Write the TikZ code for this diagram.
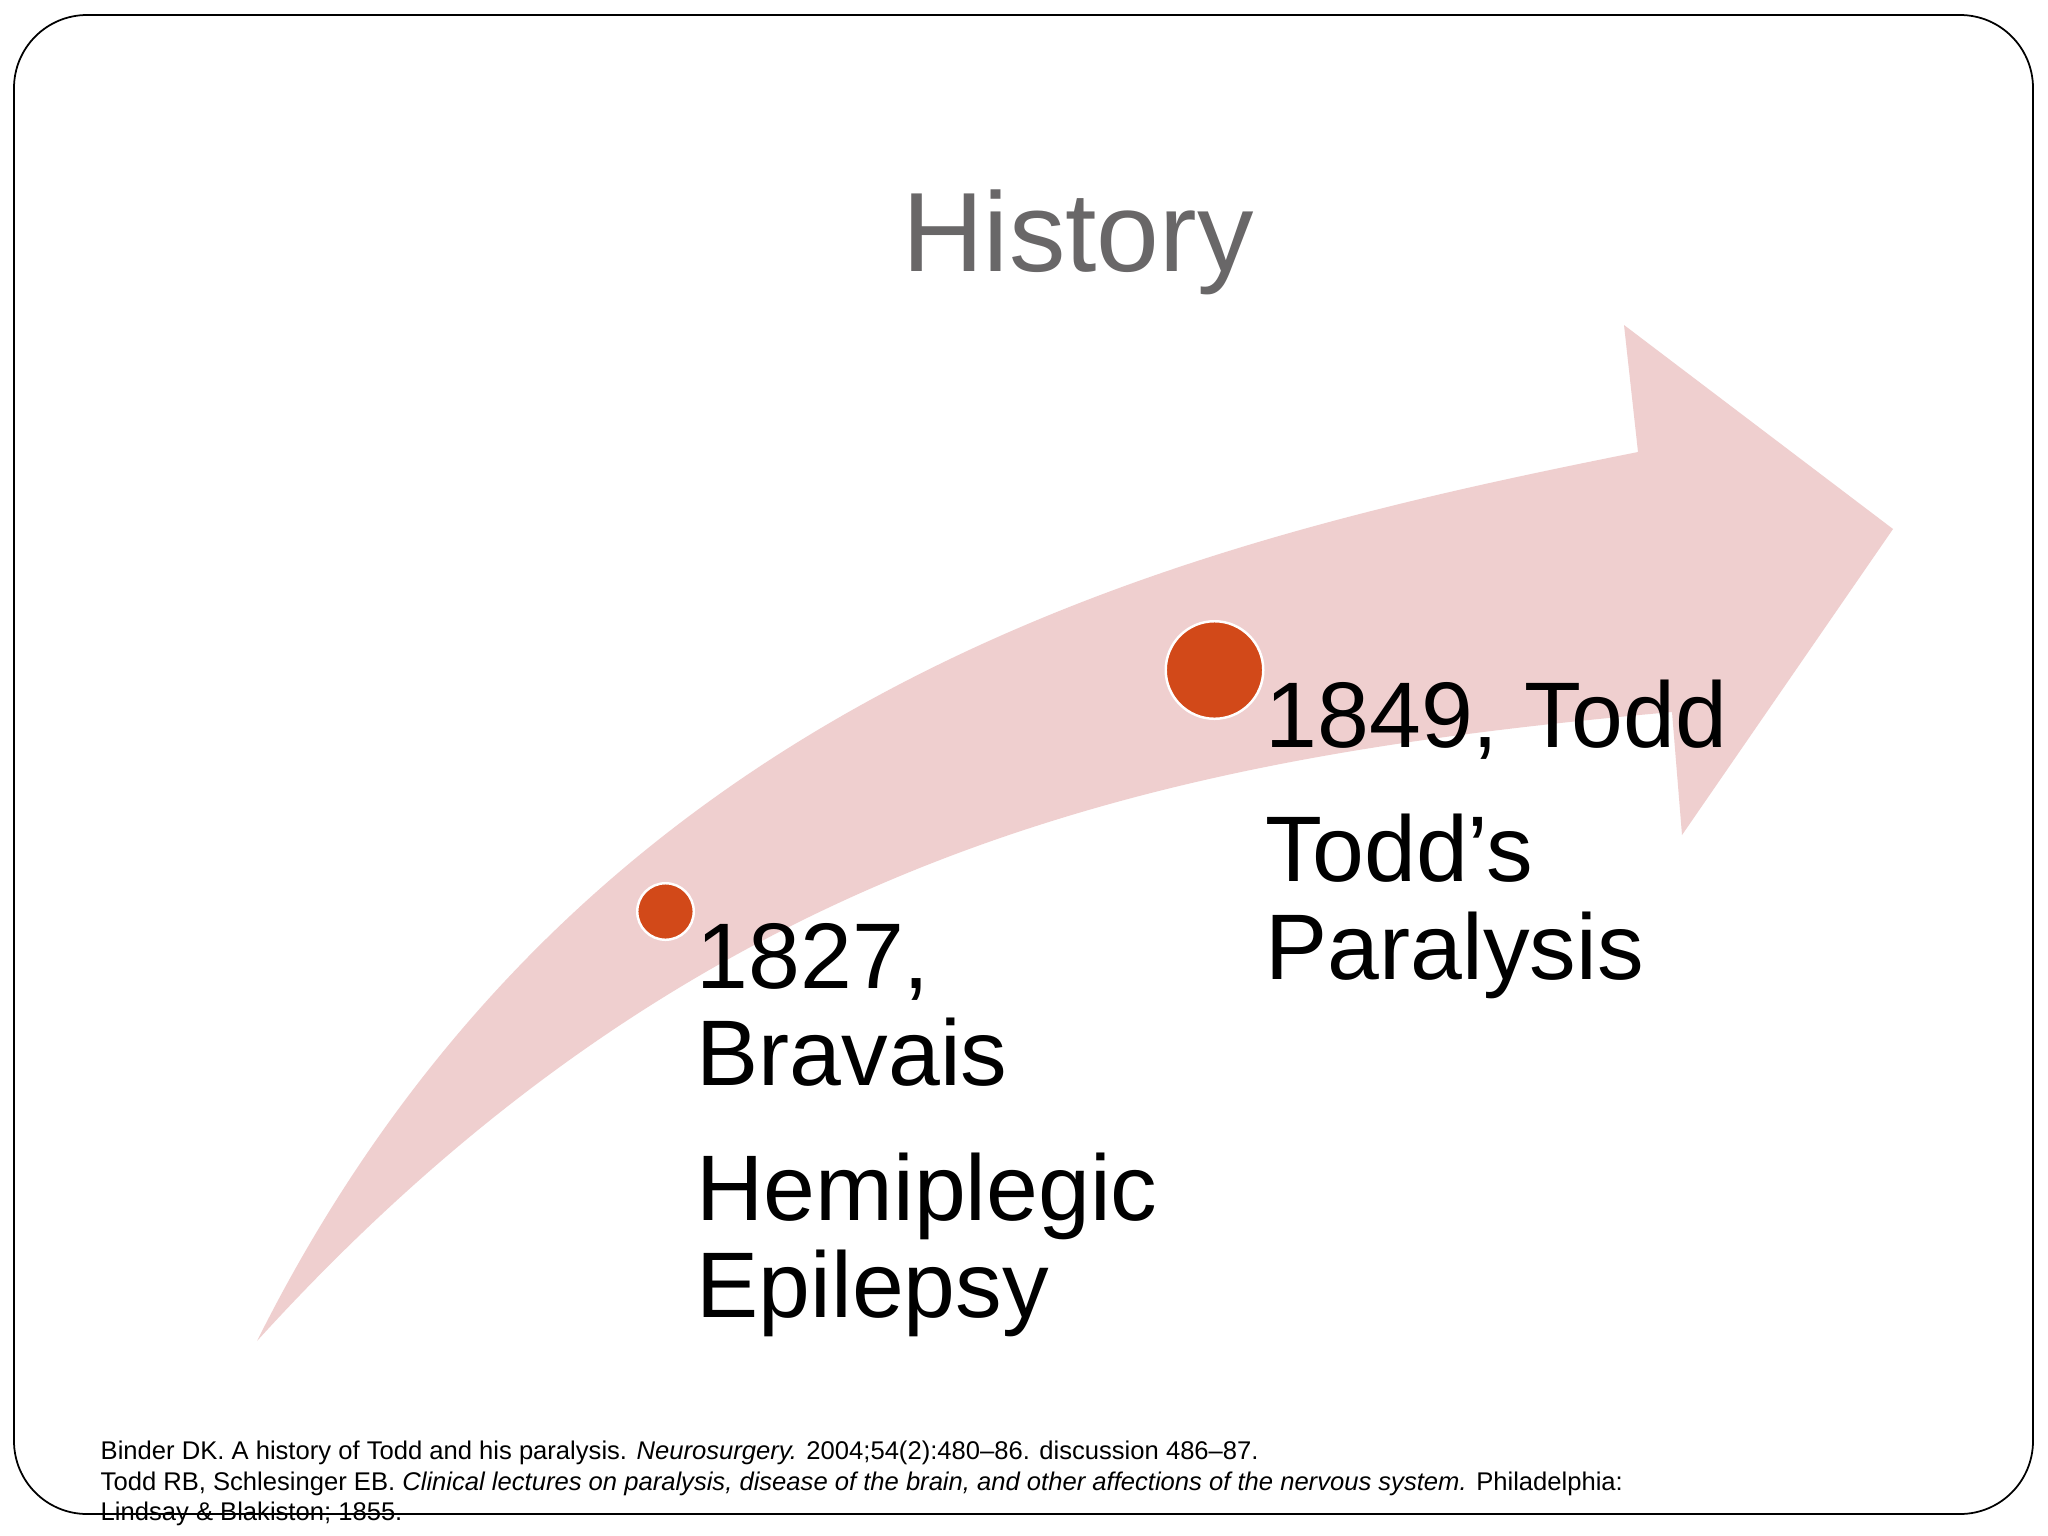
\documentclass[tikz,border=0pt]{standalone}
\usepackage{fontspec}
\setmainfont{Liberation Sans}
\definecolor{arrowpink}{RGB}{239,207,207}
\definecolor{dotred}{RGB}{210,73,25}
\definecolor{titlegray}{RGB}{105,103,104}
\tikzset{
  bodytext/.style={anchor=base west, inner sep=0pt, font=\fontsize{26.5}{30}\selectfont, text=black},
  reftext/.style={anchor=base west, inner sep=0pt, font=\fontsize{7.28}{8.5}\selectfont, text=black},
  dotstyle/.style={circle, fill=dotred, draw=white, line width=0.7pt, inner sep=0pt},
}
\begin{document}
\begin{tikzpicture}[x=0.01cm, y=-0.01cm]
\useasboundingbox (0,0) rectangle (2048,1536);
\fill[white] (0,0) rectangle (2048,1536);
% frame
\draw[line width=0.5pt, rounded corners=0.73cm] (14,15) rectangle (2033,1514);
% curved arrow
\coordinate (tail) at (257,1341);
\coordinate (notchtop) at (1638,452);
\coordinate (headtop) at (1624,325);
\coordinate (tip) at (1893,529);
\coordinate (headbot) at (1682,835);
\coordinate (notchbot) at (1672,712);
\fill[arrowpink] (tail) .. controls (587,681) and (1188,542) .. (notchtop)
  -- (headtop) -- (tip) -- (headbot) -- (notchbot)
  .. controls (1172,757) and (707,846) .. (tail) -- cycle;
% title
\node[anchor=base, inner sep=0pt, font=\fontsize{32.07}{38}\selectfont, text=titlegray] (title) at (1078,271) {History};
% dots
\node[dotstyle, minimum size=0.565cm] (dot1827) at (665.5,911.5) {};
\node[dotstyle, minimum size=0.975cm] (dot1849) at (1214.5,670) {};
% texts
\node[bodytext] (y1827) at (696,988) {1827,};
\node[bodytext] (bravais) at (696,1085) {Bravais};
\node[bodytext] (hemi) at (696,1220) {Hemiplegic};
\node[bodytext] (epi) at (696,1317) {Epilepsy};
\node[bodytext] (y1849) at (1265,747) {1849, Todd};
\node[bodytext] (todds) at (1265,881) {Todd’s};
\node[bodytext] (paralysis) at (1265,979) {Paralysis};
% references
\node[reftext] (ref1) at (100,1459) {Binder DK. A history of Todd and his paralysis. \textit{Neurosurgery.} 2004;54(2):480--86. discussion 486--87.};
\node[reftext] (ref2) at (100,1490) {Todd RB, Schlesinger EB. \textit{Clinical lectures on paralysis, disease of the brain, and other affections of the nervous system.} Philadelphia:};
\node[reftext] (ref3) at (100,1520) {Lindsay \& Blakiston; 1855.};
\end{tikzpicture}
\end{document}
